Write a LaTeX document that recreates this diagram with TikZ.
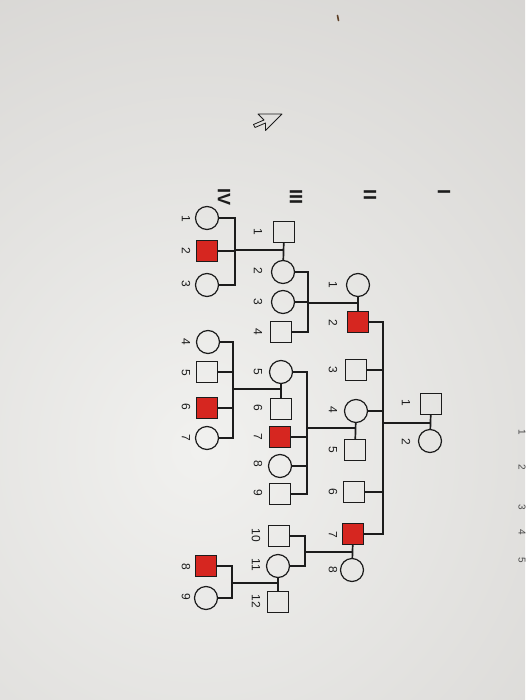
\documentclass[tikz,border=0pt]{standalone}
\usepackage{fontspec}
\setmainfont{Liberation Sans}
\definecolor{pedred}{RGB}{214,38,32}
\definecolor{ink}{RGB}{28,28,28}
\definecolor{bgin}{RGB}{241,241,239}
\definecolor{bgout}{RGB}{192,189,186}
\definecolor{speck}{RGB}{95,65,40}
\tikzset{
  sym/.style={draw=ink, line width=1.2pt, inner sep=0pt},
  male/.style={sym, rectangle, minimum size=20.5pt},
  female/.style={sym, circle, minimum size=23pt},
  aff/.style={fill=pedred},
  lbl/.style={rotate=-90, font=\fontsize{12}{12}\selectfont, text=ink, inner sep=0pt},
  gen/.style={rotate=-90, font=\bfseries\fontsize{18}{18}\selectfont, text=ink, inner sep=0pt},
  edge/.style={rotate=-90, font=\fontsize{10}{10}\selectfont, text=ink!80, inner sep=0pt},
  link/.style={draw=ink, line width=1.7pt},
}
\begin{document}
\begin{tikzpicture}[x=1pt,y=-1pt]
\useasboundingbox (0,0) rectangle (525,700);
\begin{scope}
  \clip (0,0) rectangle (525,700);
  \shade[inner color=bgin, outer color=bgout] (-800,-600) rectangle (1200,1500);
\end{scope}

% screen artefacts
\draw[ink, line width=0.8pt, line join=round] (282,114) -- (258,114) -- (264,120) -- (253.5,124.5) -- (255,127.5) -- (265.5,123) -- (265.5,130.5) -- cycle;
\draw[speck, line width=1.6pt, line cap=round] (337.5,15.5) -- (338.5,20.5);
\node[edge] (r1) at (522,432) {1};
\node[edge] (r2) at (522,467) {2};
\node[edge] (r3) at (522,507) {3};
\node[edge] (r4) at (522,532) {4};
\node[edge] (r5) at (522,560) {5};

% generation labels
\node[gen] (gI) at (444,192) {I};
\node[gen] (gII) at (370,195) {II};
\node[gen] (gIII) at (296,197) {III};
\node[gen] (gIV) at (224,197) {IV};

% generation I
\node[male] (I1) at (431,404) {};
\node[female] (I2) at (430,441) {};
\node[lbl] (lI1) at (406,403) {1};
\node[lbl] (lI2) at (406,442) {2};

% generation II
\node[female] (II1) at (358,285) {};
\node[male,aff] (II2) at (358,322) {};
\node[male] (II3) at (356,370) {};
\node[female] (II4) at (356,411) {};
\node[male] (II5) at (355,450) {};
\node[male] (II6) at (354,492) {};
\node[male,aff] (II7) at (353,534) {};
\node[female] (II8) at (352,570) {};
\foreach \n/\y in {1/285,2/323,3/370,4/410,5/450,6/492,7/535,8/570}
  \node[lbl] (lII\n) at (333,\y) {\n};

% generation III
\node[male] (III1) at (284,232) {};
\node[female] (III2) at (283,272) {};
\node[female] (III3) at (283,302) {};
\node[male] (III4) at (281,332) {};
\node[female] (III5) at (281,372) {};
\node[male] (III6) at (281,409) {};
\node[male,aff] (III7) at (280,437) {};
\node[female] (III8) at (280,466) {};
\node[male] (III9) at (280,494) {};
\node[male] (III10) at (279,536) {};
\node[female] (III11) at (278,566) {};
\node[male] (III12) at (278,602) {};
\foreach \n/\y in {1/232,2/271,3/302,4/332,5/372,6/408,7/437,8/464,9/493}
  \node[lbl] (lIII\n) at (258,\y) {\n};
\node[lbl] (lIII10) at (256,535) {10};
\node[lbl] (lIII11) at (256,565) {11};
\node[lbl] (lIII12) at (256,601) {12};

% generation IV
\node[female] (IV1) at (207,218) {};
\node[male,aff] (IV2) at (207,251) {};
\node[female] (IV3) at (207,285) {};
\node[female] (IV4) at (208,342) {};
\node[male] (IV5) at (207,372) {};
\node[male,aff] (IV6) at (207,408) {};
\node[female] (IV7) at (207,438) {};
\node[male,aff] (IV8) at (206,566) {};
\node[female] (IV9) at (206,598) {};
\foreach \n/\y in {1/219,2/251,3/284,4/342,5/373,6/407,7/438,8/567,9/597}
  \node[lbl] (lIV\n) at (186,\y) {\n};

% marriage lines
\draw[link] (I1) -- (I2);
\draw[link] (II1) -- (II2);
\draw[link] (II4) -- (II5);
\draw[link] (II7) -- (II8);
\draw[link] (III1) -- (III2);
\draw[link] (III5) -- (III6);
\draw[link] (III11) -- (III12);

% descent lines and sibships
\coordinate (mI) at (430,423); \coordinate (sI) at (383,423);
\draw[link] (mI) -- (sI);
\foreach \c in {II2,II3,II4,II6,II7} \draw[link] (\c.east) -| (sI);

\coordinate (mA) at (358,303); \coordinate (sA) at (308,303);
\draw[link] (mA) -- (sA);
\foreach \c in {III2,III3,III4} \draw[link] (\c.east) -| (sA);

\coordinate (mB) at (283,250); \coordinate (sB) at (235,250);
\draw[link] (mB) -- (sB);
\foreach \c in {IV1,IV2,IV3} \draw[link] (\c.east) -| (sB);

\coordinate (mC) at (355,428); \coordinate (sC) at (307,428);
\draw[link] (mC) -- (sC);
\foreach \c in {III5,III7,III8,III9} \draw[link] (\c.east) -| (sC);

\coordinate (mD) at (281,389); \coordinate (sD) at (233,389);
\draw[link] (mD) -- (sD);
\foreach \c in {IV4,IV5,IV6,IV7} \draw[link] (\c.east) -| (sD);

\coordinate (mE) at (353,552); \coordinate (sE) at (305,552);
\draw[link] (mE) -- (sE);
\foreach \c in {III10,III11} \draw[link] (\c.east) -| (sE);

\coordinate (mF) at (278,583); \coordinate (sF) at (232,583);
\draw[link] (mF) -- (sF);
\foreach \c in {IV8,IV9} \draw[link] (\c.east) -| (sF);
\end{tikzpicture}
\end{document}
